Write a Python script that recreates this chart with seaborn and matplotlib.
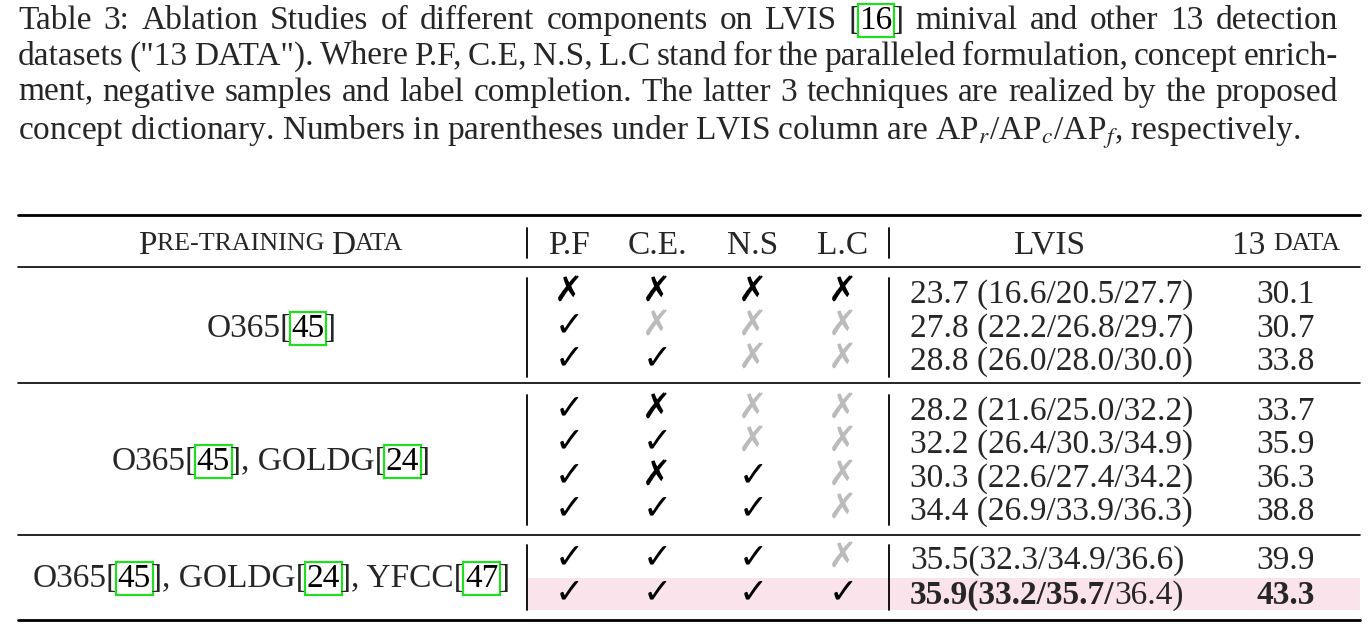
import matplotlib
matplotlib.use("Agg")
import matplotlib.pyplot as plt
import seaborn as sns

sns.set_theme(style="white")
plt.rcParams['font.family'] = ['Liberation Serif', 'DejaVu Serif']
plt.rcParams['mathtext.fontset'] = 'stix'

caption_lines = [
    "datasets (\"13 DATA\"). Where P.F, C.E, N.S, L.C stand for the paralleled formulation, concept enrich-",
    "ment, negative samples and label completion. The latter 3 techniques are realized by the proposed",
]
groups = [["O365", "45"], ["O365", "45", ", GOLDG", "24"], ["O365", "45", ", GOLDG", "24", ", YFCC", "47"]]
pf = ["x", "v", "v", "v", "v", "v", "v", "v", "v"]
ce = ["x", "g", "v", "x", "v", "x", "v", "v", "v"]
ns = ["x", "g", "g", "g", "g", "v", "v", "v", "v"]
lc = ["x", "g", "g", "g", "g", "g", "g", "g", "v"]
lvis = ["23.7 (16.6/20.5/27.7)", "27.8 (22.2/26.8/29.7)", "28.8 (26.0/28.0/30.0)",
        "28.2 (21.6/25.0/32.2)", "32.2 (26.4/30.3/34.9)", "30.3 (22.6/27.4/34.2)",
        "34.4 (26.9/33.9/36.3)", "35.5(32.3/34.9/36.6)", "35.9(33.2/35.7/36.4)"]
data13 = ["30.1", "30.7", "33.8", "33.7", "35.9", "36.3", "38.8", "39.9", "43.3"]

W, H = 1371, 630
fig = plt.figure(figsize=(W/100, H/100), dpi=100)
ax = fig.add_axes([0, 0, 1, 1])
ax.set_xlim(0, W); ax.set_ylim(H, 0); ax.axis("off")
r = fig.canvas.get_renderer()
FS = 24
GREEN = "#22dd22"
N = {}

def seq(x, y, pieces, ha="left", x1=None):
    arts, widths = [], []
    for txt, kw in pieces:
        k = dict(fontsize=FS, va="center_baseline", ha="left")
        k.update(kw)
        t = ax.text(0, y, txt, **k)
        widths.append(t.get_window_extent(r).width)
        arts.append(t)
    total = sum(widths)
    cx = x - total/2 if ha == "center" else x
    gap = 0
    if x1 is not None and len(arts) > 1:
        gap = (x1 - x - total) / (len(arts) - 1)
    for t, w in zip(arts, widths):
        t.set_x(cx); cx += w + gap

def cite(n):
    return (n, dict(color="black", bbox=dict(boxstyle="square,pad=0.05", fc="none", ec=GREEN, lw=1.6)))

def justify(y, line):
    words = line.split(" ")
    seq(18, y, [(w, N) for w in words], x1=1338)

seq(18, 17, [(w, N) for w in "Table 3: Ablation Studies of different components on LVIS".split(" ")]
    + [("[", N), cite("16"), ("]", N)] + [(w, N) for w in "minival and other 13 detection".split(" ")], x1=1338)
# fix bracket spacing: redo line 1 with grouped tokens
for t in list(ax.texts):
    t.remove()
line1 = [("Table", N), ("3:", N), ("Ablation", N), ("Studies", N), ("of", N), ("different", N),
         ("components", N), ("on", N), ("LVIS", N)]
# measure and justify manually with cite group
def group_width(pieces):
    ws = []
    for txt, kw in pieces:
        k = dict(fontsize=FS); k.update(kw)
        t = ax.text(0, 0, txt, **k); ws.append(t.get_window_extent(r).width); t.remove()
    return ws
cgroup = [("[", N), cite("16"), ("]", N)]
tail = [(w, N) for w in "minival and other 13 detection".split(" ")]
tokens = [[p] for p in line1] + [cgroup] + [[p] for p in tail]
tw = [sum(group_width(g)) for g in tokens]
gap = (1338 - 18 - sum(tw)) / (len(tokens) - 1)
cx = 18
for g, w in zip(tokens, tw):
    seq(cx, 17, g); cx += w + gap

for y, line in zip([53, 89], caption_lines):
    justify(y, line)
ax.text(18, 126, "concept dictionary. Numbers in parentheses under LVIS column are AP$_r$/AP$_c$/AP$_f$, respectively.",
        fontsize=FS, va="center_baseline")

# rules
for y, lw in [(215, 2), (267, 1.2), (383, 1.2), (535, 1.2), (620, 2)]:
    ax.plot([18, 1360], [y, y], color="black", lw=lw)
ax.fill_between([528, 1360], 578, 610, color="#fbe3ec", lw=0, zorder=0)
for y0, y1 in [(228, 258), (278, 377), (395, 525), (545, 610)]:
    for x in (527, 889):
        ax.plot([x, x], [y0, y1], color="black", lw=1.3)

big, small = dict(fontsize=FS), dict(fontsize=FS*0.78)
hy = 242
seq(271, hy, [("P", big), ("RE-TRAINING ", small), ("D", big), ("ATA", small)], ha="center")
cols = [569, 657, 753, 843]
for x, h in zip(cols, ["P.F", "C.E.", "N.S", "L.C"]):
    ax.text(x, hy, h, fontsize=FS, ha="center", va="center_baseline")
ax.text(1050, hy, "LVIS", fontsize=FS, ha="center", va="center_baseline")
seq(1286, hy, [("13 ", big), ("DATA", small)], ha="center")

rows_y = [291, 325, 358, 408, 441, 475, 508, 557, 592]
group_y = [325, 458, 575]
for gy, g in zip(group_y, groups):
    out = []
    for i, s in enumerate(g):
        if i % 2 == 0:
            out.append((s + "[", N))
        else:
            out.append(cite(s)); out.append(("]", N))
    seq(271, gy, out, ha="center")

sym = {"x": ("✗", "black"), "v": ("✓", "black"), "g": ("✗", "#bbbbbb")}
for ci, col in enumerate([pf, ce, ns, lc]):
    for y, v in zip(rows_y, col):
        s, c = sym[v]
        ax.text(cols[ci], y, s, fontsize=FS*1.05, ha="center", va="center", color=c,
                family=["DejaVu Sans"], fontweight="bold" if v != "g" else "normal")

for i, (y, l, d) in enumerate(zip(rows_y, lvis, data13)):
    if i == len(lvis) - 1:
        seq(910, y, [(l[:-5], dict(fontweight="bold")), (l[-5:], N)])
        ax.text(1286, y, d, fontsize=FS, ha="center", va="center_baseline", fontweight="bold")
    else:
        ax.text(910, y, l, fontsize=FS, va="center_baseline")
        ax.text(1286, y, d, fontsize=FS, ha="center", va="center_baseline")

fig.savefig("out.png", dpi=100)
